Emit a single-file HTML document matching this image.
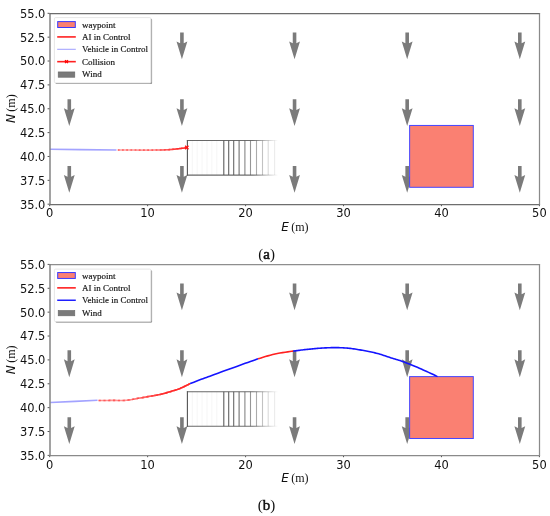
<!DOCTYPE html>
<html><head><meta charset="utf-8"><title>Trajectory plots</title>
<style>
html,body{margin:0;padding:0;background:#fff;}
body{width:550px;height:516px;overflow:hidden;}
svg{display:block;}
.tk{font-family:'DejaVu Sans', 'Liberation Sans', sans-serif;font-size:11.45px;fill:#111;}
.lab{font-size:12px;fill:#111;}
.it{font-family:'DejaVu Sans',sans-serif;font-style:oblique;font-size:12px;fill:#111;}
.sr{font-family:'Liberation Serif', 'DejaVu Serif', serif;font-size:12px;fill:#111;}
.lg{font-family:'Liberation Serif', 'DejaVu Serif', serif;font-size:9px;fill:#111;stroke:#111;stroke-width:0.16px;}
.cap{font-family:'Liberation Serif', 'DejaVu Serif', serif;font-size:15px;fill:#111;}
</style></head><body>
<svg width="550" height="516" viewBox="0 0 550 516">
<rect width="550" height="516" fill="#fff"/>
<polygon points="67.49,32.39 71.09,32.39 71.09,43.19 74.69,41.39 69.29,59.19 63.89,41.39 67.49,43.19" fill="#7b7b7b"/>
<polygon points="180.12,32.39 183.72,32.39 183.72,43.19 187.32,41.39 181.92,59.19 176.52,41.39 180.12,43.19" fill="#7b7b7b"/>
<polygon points="292.75,32.39 296.35,32.39 296.35,43.19 299.95,41.39 294.55,59.19 289.15,41.39 292.75,43.19" fill="#7b7b7b"/>
<polygon points="405.38,32.39 408.98,32.39 408.98,43.19 412.58,41.39 407.18,59.19 401.78,41.39 405.38,43.19" fill="#7b7b7b"/>
<polygon points="518.01,32.39 521.61,32.39 521.61,43.19 525.21,41.39 519.81,59.19 514.41,41.39 518.01,43.19" fill="#7b7b7b"/>
<polygon points="67.49,99.20 71.09,99.20 71.09,110.00 74.69,108.20 69.29,126.00 63.89,108.20 67.49,110.00" fill="#7b7b7b"/>
<polygon points="180.12,99.20 183.72,99.20 183.72,110.00 187.32,108.20 181.92,126.00 176.52,108.20 180.12,110.00" fill="#7b7b7b"/>
<polygon points="292.75,99.20 296.35,99.20 296.35,110.00 299.95,108.20 294.55,126.00 289.15,108.20 292.75,110.00" fill="#7b7b7b"/>
<polygon points="405.38,99.20 408.98,99.20 408.98,110.00 412.58,108.20 407.18,126.00 401.78,108.20 405.38,110.00" fill="#7b7b7b"/>
<polygon points="518.01,99.20 521.61,99.20 521.61,110.00 525.21,108.20 519.81,126.00 514.41,108.20 518.01,110.00" fill="#7b7b7b"/>
<polygon points="67.49,166.02 71.09,166.02 71.09,176.82 74.69,175.02 69.29,192.82 63.89,175.02 67.49,176.82" fill="#7b7b7b"/>
<polygon points="180.12,166.02 183.72,166.02 183.72,176.82 187.32,175.02 181.92,192.82 176.52,175.02 180.12,176.82" fill="#7b7b7b"/>
<polygon points="292.75,166.02 296.35,166.02 296.35,176.82 299.95,175.02 294.55,192.82 289.15,175.02 292.75,176.82" fill="#7b7b7b"/>
<polygon points="405.38,166.02 408.98,166.02 408.98,176.82 412.58,175.02 407.18,192.82 401.78,175.02 405.38,176.82" fill="#7b7b7b"/>
<polygon points="518.01,166.02 521.61,166.02 521.61,176.82 525.21,175.02 519.81,192.82 514.41,175.02 518.01,176.82" fill="#7b7b7b"/>
<defs><linearGradient id="fade0" gradientUnits="userSpaceOnUse" x1="187" y1="0" x2="278" y2="0"><stop offset="0" stop-color="#555" stop-opacity="0.9"/><stop offset="0.72" stop-color="#555" stop-opacity="0.85"/><stop offset="0.87" stop-color="#555" stop-opacity="0.35"/><stop offset="1" stop-color="#555" stop-opacity="0"/></linearGradient></defs>
<line x1="192.30" y1="140.53" x2="192.30" y2="175.09" stroke="#000" stroke-opacity="0.04" stroke-width="1"/>
<line x1="197.20" y1="140.53" x2="197.20" y2="175.09" stroke="#000" stroke-opacity="0.04" stroke-width="1"/>
<line x1="202.10" y1="140.53" x2="202.10" y2="175.09" stroke="#000" stroke-opacity="0.04" stroke-width="1"/>
<line x1="207.00" y1="140.53" x2="207.00" y2="175.09" stroke="#000" stroke-opacity="0.04" stroke-width="1"/>
<line x1="211.90" y1="140.53" x2="211.90" y2="175.09" stroke="#000" stroke-opacity="0.04" stroke-width="1"/>
<line x1="216.80" y1="140.53" x2="216.80" y2="175.09" stroke="#000" stroke-opacity="0.04" stroke-width="1"/>
<line x1="223.80" y1="140.53" x2="223.80" y2="175.09" stroke="#000" stroke-opacity="0.64" stroke-width="1.1"/>
<line x1="228.70" y1="140.53" x2="228.70" y2="175.09" stroke="#000" stroke-opacity="0.62" stroke-width="1.1"/>
<line x1="233.70" y1="140.53" x2="233.70" y2="175.09" stroke="#000" stroke-opacity="0.60" stroke-width="1.1"/>
<line x1="239.10" y1="140.53" x2="239.10" y2="175.09" stroke="#000" stroke-opacity="0.56" stroke-width="1.1"/>
<line x1="244.90" y1="140.53" x2="244.90" y2="175.09" stroke="#000" stroke-opacity="0.48" stroke-width="1.1"/>
<line x1="250.50" y1="140.53" x2="250.50" y2="175.09" stroke="#000" stroke-opacity="0.41" stroke-width="1.1"/>
<line x1="256.50" y1="140.53" x2="256.50" y2="175.09" stroke="#000" stroke-opacity="0.33" stroke-width="1.1"/>
<line x1="262.50" y1="140.53" x2="262.50" y2="175.09" stroke="#000" stroke-opacity="0.24" stroke-width="1.1"/>
<line x1="268.20" y1="140.53" x2="268.20" y2="175.09" stroke="#000" stroke-opacity="0.15" stroke-width="1.1"/>
<line x1="274.60" y1="140.53" x2="274.60" y2="175.09" stroke="#000" stroke-opacity="0.08" stroke-width="1.1"/>
<line x1="187.40" y1="140.03" x2="187.40" y2="175.59" stroke="#000" stroke-opacity="0.68" stroke-width="1.1"/>
<line x1="186.90" y1="140.53" x2="278" y2="140.53" stroke="url(#fade0)" stroke-width="1.1"/>
<line x1="186.90" y1="175.09" x2="278" y2="175.09" stroke="url(#fade0)" stroke-width="1.1"/>
<rect x="409.63" y="125.45" width="63.66" height="61.85" fill="#fa8072" stroke="#4646ff" stroke-width="1"/>
<path d="M50.20,149.30 L80.00,149.60 L116.50,150.00" fill="none" stroke="#a3a3ff" stroke-width="1.6"/>
<path d="M117.80,149.95 L121.47,149.97 L126.67,150.01 L132.78,150.05 L139.13,150.09 L145.08,150.11 L150.00,150.10 L153.94,150.07 L157.42,150.02 L160.51,149.95 L163.27,149.88 L165.74,149.79 L168.00,149.70 L169.92,149.60 L171.44,149.49 L172.69,149.37 L173.78,149.25 L174.84,149.13 L176.00,149.00 L177.26,148.87 L178.52,148.74 L179.75,148.61 L180.93,148.47 L182.02,148.33 L183.00,148.20 L183.89,148.06 L184.70,147.90 L185.44,147.75 L186.07,147.61 L186.60,147.49 L187.00,147.40" fill="none" stroke="#ff9c9c" stroke-width="1.6"/>
<path d="M117.80,149.95 L121.47,149.97 L126.67,150.01 L132.78,150.05 L139.13,150.09 L145.08,150.11 L150.00,150.10 L153.94,150.07 L157.42,150.02 L160.51,149.95 L163.27,149.88 L165.74,149.79 L168.00,149.70 L169.92,149.60 L171.44,149.49 L172.69,149.37 L173.78,149.25 L174.84,149.13 L176.00,149.00 L177.26,148.87 L178.52,148.74 L179.75,148.61 L180.93,148.47 L182.02,148.33 L183.00,148.20 L183.89,148.06 L184.70,147.90 L185.44,147.75 L186.07,147.61 L186.60,147.49 L187.00,147.40" fill="none" stroke="#ff6262" stroke-width="1.6" stroke-dasharray="1.8 2.4"/>
<path d="M150.00,150.10 L153.94,150.07 L157.42,150.02 L160.51,149.95 L163.27,149.88 L165.74,149.79 L168.00,149.70 L169.92,149.60 L171.44,149.49 L172.69,149.37 L173.78,149.25 L174.84,149.13 L176.00,149.00 L177.26,148.87 L178.52,148.74 L179.75,148.61 L180.93,148.47 L182.02,148.33 L183.00,148.20 L183.89,148.06 L184.70,147.90 L185.44,147.75 L186.07,147.61 L186.60,147.49 L187.00,147.40" fill="none" stroke="url(#redfadeA)" stroke-width="1.5"/>
<defs><linearGradient id="redfadeA" gradientUnits="userSpaceOnUse" x1="150" y1="0" x2="180" y2="0"><stop offset="0" stop-color="#ff2a2a" stop-opacity="0"/><stop offset="1" stop-color="#ff2a2a" stop-opacity="1"/></linearGradient></defs>
<path d="M185.10,145.80 l3.4,3.4 M185.10,149.20 l3.4,-3.4" stroke="#ff1010" stroke-width="1.3"/>
<line x1="49.4" y1="13.50" x2="540.1" y2="13.50" stroke="#6c6c6c" stroke-width="1.25"/>
<line x1="49.4" y1="204.50" x2="540.1" y2="204.50" stroke="#6e6e6e" stroke-width="1.25"/>
<line x1="539.5" y1="13.50" x2="539.5" y2="204.50" stroke="#8a8a8a" stroke-width="1.25"/>
<line x1="50.0" y1="13.50" x2="50.0" y2="204.50" stroke="#707070" stroke-width="1.3"/>
<line x1="47.6" y1="204.20" x2="49.5" y2="204.20" stroke="#555" stroke-width="1"/>
<text x="45.4" y="208.60" text-anchor="end" class="tk">35.0</text>
<line x1="47.6" y1="180.34" x2="49.5" y2="180.34" stroke="#555" stroke-width="1"/>
<text x="45.4" y="184.74" text-anchor="end" class="tk">37.5</text>
<line x1="47.6" y1="156.47" x2="49.5" y2="156.47" stroke="#555" stroke-width="1"/>
<text x="45.4" y="160.88" text-anchor="end" class="tk">40.0</text>
<line x1="47.6" y1="132.61" x2="49.5" y2="132.61" stroke="#555" stroke-width="1"/>
<text x="45.4" y="137.01" text-anchor="end" class="tk">42.5</text>
<line x1="47.6" y1="108.75" x2="49.5" y2="108.75" stroke="#555" stroke-width="1"/>
<text x="45.4" y="113.15" text-anchor="end" class="tk">45.0</text>
<line x1="47.6" y1="84.89" x2="49.5" y2="84.89" stroke="#555" stroke-width="1"/>
<text x="45.4" y="89.29" text-anchor="end" class="tk">47.5</text>
<line x1="47.6" y1="61.02" x2="49.5" y2="61.02" stroke="#555" stroke-width="1"/>
<text x="45.4" y="65.42" text-anchor="end" class="tk">50.0</text>
<line x1="47.6" y1="37.16" x2="49.5" y2="37.16" stroke="#555" stroke-width="1"/>
<text x="45.4" y="41.56" text-anchor="end" class="tk">52.5</text>
<line x1="47.6" y1="13.30" x2="49.5" y2="13.30" stroke="#555" stroke-width="1"/>
<text x="45.4" y="17.70" text-anchor="end" class="tk">55.0</text>
<line x1="49.70" y1="205.00" x2="49.70" y2="206.20" stroke="#555" stroke-width="1"/>
<text x="49.70" y="217.30" text-anchor="middle" class="tk">0</text>
<line x1="147.64" y1="205.00" x2="147.64" y2="206.20" stroke="#555" stroke-width="1"/>
<text x="147.64" y="217.30" text-anchor="middle" class="tk">10</text>
<line x1="245.58" y1="205.00" x2="245.58" y2="206.20" stroke="#555" stroke-width="1"/>
<text x="245.58" y="217.30" text-anchor="middle" class="tk">20</text>
<line x1="343.52" y1="205.00" x2="343.52" y2="206.20" stroke="#555" stroke-width="1"/>
<text x="343.52" y="217.30" text-anchor="middle" class="tk">30</text>
<line x1="441.46" y1="205.00" x2="441.46" y2="206.20" stroke="#555" stroke-width="1"/>
<text x="441.46" y="217.30" text-anchor="middle" class="tk">40</text>
<line x1="539.40" y1="205.00" x2="539.40" y2="206.20" stroke="#555" stroke-width="1"/>
<text x="539.40" y="217.30" text-anchor="middle" class="tk">50</text>
<text x="281.2" y="230.70" class="it">E</text>
<text x="291.2" y="230.70" class="sr">(m)</text>
<g transform="translate(14.9,0) rotate(-90)"><text x="-123.05" y="0" class="it">N</text><text x="-111.65" y="0" class="sr">(m)</text></g>
<polygon points="67.49,283.50 71.09,283.50 71.09,294.30 74.69,292.50 69.29,310.30 63.89,292.50 67.49,294.30" fill="#7b7b7b"/>
<polygon points="180.12,283.50 183.72,283.50 183.72,294.30 187.32,292.50 181.92,310.30 176.52,292.50 180.12,294.30" fill="#7b7b7b"/>
<polygon points="292.75,283.50 296.35,283.50 296.35,294.30 299.95,292.50 294.55,310.30 289.15,292.50 292.75,294.30" fill="#7b7b7b"/>
<polygon points="405.38,283.50 408.98,283.50 408.98,294.30 412.58,292.50 407.18,310.30 401.78,292.50 405.38,294.30" fill="#7b7b7b"/>
<polygon points="518.01,283.50 521.61,283.50 521.61,294.30 525.21,292.50 519.81,310.30 514.41,292.50 518.01,294.30" fill="#7b7b7b"/>
<polygon points="67.49,350.35 71.09,350.35 71.09,361.15 74.69,359.35 69.29,377.15 63.89,359.35 67.49,361.15" fill="#7b7b7b"/>
<polygon points="180.12,350.35 183.72,350.35 183.72,361.15 187.32,359.35 181.92,377.15 176.52,359.35 180.12,361.15" fill="#7b7b7b"/>
<polygon points="292.75,350.35 296.35,350.35 296.35,361.15 299.95,359.35 294.55,377.15 289.15,359.35 292.75,361.15" fill="#7b7b7b"/>
<polygon points="405.38,350.35 408.98,350.35 408.98,361.15 412.58,359.35 407.18,377.15 401.78,359.35 405.38,361.15" fill="#7b7b7b"/>
<polygon points="518.01,350.35 521.61,350.35 521.61,361.15 525.21,359.35 519.81,377.15 514.41,359.35 518.01,361.15" fill="#7b7b7b"/>
<polygon points="67.49,417.20 71.09,417.20 71.09,428.00 74.69,426.20 69.29,444.00 63.89,426.20 67.49,428.00" fill="#7b7b7b"/>
<polygon points="180.12,417.20 183.72,417.20 183.72,428.00 187.32,426.20 181.92,444.00 176.52,426.20 180.12,428.00" fill="#7b7b7b"/>
<polygon points="292.75,417.20 296.35,417.20 296.35,428.00 299.95,426.20 294.55,444.00 289.15,426.20 292.75,428.00" fill="#7b7b7b"/>
<polygon points="405.38,417.20 408.98,417.20 408.98,428.00 412.58,426.20 407.18,444.00 401.78,426.20 405.38,428.00" fill="#7b7b7b"/>
<polygon points="518.01,417.20 521.61,417.20 521.61,428.00 525.21,426.20 519.81,444.00 514.41,426.20 518.01,428.00" fill="#7b7b7b"/>
<defs><linearGradient id="fade1" gradientUnits="userSpaceOnUse" x1="187" y1="0" x2="278" y2="0"><stop offset="0" stop-color="#555" stop-opacity="0.9"/><stop offset="0.72" stop-color="#555" stop-opacity="0.85"/><stop offset="0.87" stop-color="#555" stop-opacity="0.35"/><stop offset="1" stop-color="#555" stop-opacity="0"/></linearGradient></defs>
<line x1="192.30" y1="391.70" x2="192.30" y2="426.27" stroke="#000" stroke-opacity="0.04" stroke-width="1"/>
<line x1="197.20" y1="391.70" x2="197.20" y2="426.27" stroke="#000" stroke-opacity="0.04" stroke-width="1"/>
<line x1="202.10" y1="391.70" x2="202.10" y2="426.27" stroke="#000" stroke-opacity="0.04" stroke-width="1"/>
<line x1="207.00" y1="391.70" x2="207.00" y2="426.27" stroke="#000" stroke-opacity="0.04" stroke-width="1"/>
<line x1="211.90" y1="391.70" x2="211.90" y2="426.27" stroke="#000" stroke-opacity="0.04" stroke-width="1"/>
<line x1="216.80" y1="391.70" x2="216.80" y2="426.27" stroke="#000" stroke-opacity="0.04" stroke-width="1"/>
<line x1="223.80" y1="391.70" x2="223.80" y2="426.27" stroke="#000" stroke-opacity="0.64" stroke-width="1.1"/>
<line x1="228.70" y1="391.70" x2="228.70" y2="426.27" stroke="#000" stroke-opacity="0.62" stroke-width="1.1"/>
<line x1="233.70" y1="391.70" x2="233.70" y2="426.27" stroke="#000" stroke-opacity="0.60" stroke-width="1.1"/>
<line x1="239.10" y1="391.70" x2="239.10" y2="426.27" stroke="#000" stroke-opacity="0.56" stroke-width="1.1"/>
<line x1="244.90" y1="391.70" x2="244.90" y2="426.27" stroke="#000" stroke-opacity="0.48" stroke-width="1.1"/>
<line x1="250.50" y1="391.70" x2="250.50" y2="426.27" stroke="#000" stroke-opacity="0.41" stroke-width="1.1"/>
<line x1="256.50" y1="391.70" x2="256.50" y2="426.27" stroke="#000" stroke-opacity="0.33" stroke-width="1.1"/>
<line x1="262.50" y1="391.70" x2="262.50" y2="426.27" stroke="#000" stroke-opacity="0.24" stroke-width="1.1"/>
<line x1="268.20" y1="391.70" x2="268.20" y2="426.27" stroke="#000" stroke-opacity="0.15" stroke-width="1.1"/>
<line x1="274.60" y1="391.70" x2="274.60" y2="426.27" stroke="#000" stroke-opacity="0.08" stroke-width="1.1"/>
<line x1="187.40" y1="391.20" x2="187.40" y2="426.77" stroke="#000" stroke-opacity="0.68" stroke-width="1.1"/>
<line x1="186.90" y1="391.70" x2="278" y2="391.70" stroke="url(#fade1)" stroke-width="1.1"/>
<line x1="186.90" y1="426.27" x2="278" y2="426.27" stroke="url(#fade1)" stroke-width="1.1"/>
<rect x="409.63" y="376.61" width="63.66" height="61.88" fill="#fa8072" stroke="#4646ff" stroke-width="1"/>
<path d="M50.40,402.50 L75.00,401.40 L97.50,400.30" fill="none" stroke="#a3a3ff" stroke-width="1.6"/>
<path d="M98.60,400.50 L99.63,400.49 L100.98,400.48 L102.59,400.47 L104.39,400.46 L106.30,400.45 L108.25,400.43 L110.18,400.42 L112.00,400.40 L113.78,400.40 L115.59,400.42 L117.44,400.44 L119.30,400.46 L121.16,400.46 L123.01,400.44 L124.82,400.37 L126.60,400.25 L128.32,400.07 L130.00,399.84 L131.64,399.58 L133.27,399.28 L134.91,398.96 L136.57,398.64 L138.26,398.31 L140.00,398.00 L141.85,397.68 L143.83,397.35 L145.86,397.00 L147.90,396.65 L149.89,396.30 L151.78,395.97 L153.50,395.67 L155.00,395.40 L156.25,395.17 L157.29,394.99 L158.17,394.83 L158.94,394.68 L159.65,394.54 L160.37,394.39 L161.13,394.21 L162.00,394.00 L162.95,393.76 L163.93,393.49 L164.92,393.21 L165.92,392.92 L166.94,392.62 L167.96,392.31 L168.98,392.00 L170.00,391.70 L171.02,391.40 L172.07,391.10 L173.12,390.80 L174.18,390.49 L175.22,390.18 L176.24,389.86 L177.24,389.54 L178.20,389.20 L179.13,388.85 L180.04,388.48 L180.93,388.09 L181.79,387.71 L182.64,387.32 L183.45,386.93 L184.24,386.56 L185.00,386.20 L185.75,385.84 L186.51,385.46 L187.26,385.08 L187.97,384.71 L188.64,384.37 L189.22,384.06 L189.72,383.80 L190.10,383.60" fill="none" stroke="#ff9494" stroke-width="1.6"/>
<path d="M98.60,400.50 L99.63,400.49 L100.98,400.48 L102.59,400.47 L104.39,400.46 L106.30,400.45 L108.25,400.43 L110.18,400.42 L112.00,400.40 L113.78,400.40 L115.59,400.42 L117.44,400.44 L119.30,400.46 L121.16,400.46 L123.01,400.44 L124.82,400.37 L126.60,400.25 L128.32,400.07 L130.00,399.84 L131.64,399.58 L133.27,399.28 L134.91,398.96 L136.57,398.64 L138.26,398.31 L140.00,398.00 L141.85,397.68 L143.83,397.35 L145.86,397.00 L147.90,396.65 L149.89,396.30 L151.78,395.97 L153.50,395.67 L155.00,395.40 L156.25,395.17 L157.29,394.99 L158.17,394.83 L158.94,394.68 L159.65,394.54 L160.37,394.39 L161.13,394.21 L162.00,394.00 L162.95,393.76 L163.93,393.49 L164.92,393.21 L165.92,392.92 L166.94,392.62 L167.96,392.31 L168.98,392.00 L170.00,391.70 L171.02,391.40 L172.07,391.10 L173.12,390.80 L174.18,390.49 L175.22,390.18 L176.24,389.86 L177.24,389.54 L178.20,389.20 L179.13,388.85 L180.04,388.48 L180.93,388.09 L181.79,387.71 L182.64,387.32 L183.45,386.93 L184.24,386.56 L185.00,386.20 L185.75,385.84 L186.51,385.46 L187.26,385.08 L187.97,384.71 L188.64,384.37 L189.22,384.06 L189.72,383.80 L190.10,383.60" fill="none" stroke="#ff5a5a" stroke-width="1.6" stroke-dasharray="2.2 2.6"/>
<path d="M126.60,400.25 L128.32,400.07 L130.00,399.84 L131.64,399.58 L133.27,399.28 L134.91,398.96 L136.57,398.64 L138.26,398.31 L140.00,398.00 L141.85,397.68 L143.83,397.35 L145.86,397.00 L147.90,396.65 L149.89,396.30 L151.78,395.97 L153.50,395.67 L155.00,395.40 L156.25,395.17 L157.29,394.99 L158.17,394.83 L158.94,394.68 L159.65,394.54 L160.37,394.39 L161.13,394.21 L162.00,394.00 L162.95,393.76 L163.93,393.49 L164.92,393.21 L165.92,392.92 L166.94,392.62 L167.96,392.31 L168.98,392.00 L170.00,391.70 L171.02,391.40 L172.07,391.10 L173.12,390.80 L174.18,390.49 L175.22,390.18 L176.24,389.86 L177.24,389.54 L178.20,389.20 L179.13,388.85 L180.04,388.48 L180.93,388.09 L181.79,387.71 L182.64,387.32 L183.45,386.93 L184.24,386.56 L185.00,386.20 L185.75,385.84 L186.51,385.46 L187.26,385.08 L187.97,384.71 L188.64,384.37 L189.22,384.06 L189.72,383.80 L190.10,383.60" fill="none" stroke="url(#redfade)" stroke-width="1.6"/>
<defs><linearGradient id="redfade" gradientUnits="userSpaceOnUse" x1="125" y1="0" x2="165" y2="0"><stop offset="0" stop-color="#ff2a2a" stop-opacity="0"/><stop offset="1" stop-color="#ff2a2a" stop-opacity="1"/></linearGradient></defs>
<path d="M190.10,383.60 L191.08,383.23 L192.37,382.73 L193.90,382.15 L195.61,381.49 L197.44,380.80 L199.32,380.08 L201.20,379.37 L203.00,378.70 L204.73,378.06 L206.44,377.43 L208.16,376.79 L209.93,376.14 L211.77,375.47 L213.71,374.76 L215.78,374.01 L218.00,373.20 L220.44,372.31 L223.10,371.34 L225.91,370.31 L228.81,369.26 L231.74,368.19 L234.62,367.15 L237.39,366.14 L240.00,365.20 L242.56,364.28 L245.20,363.34 L247.83,362.40 L250.38,361.50 L252.74,360.66 L254.86,359.91 L256.64,359.28 L258.00,358.80" fill="none" stroke="#1414ff" stroke-width="1.6"/>
<path d="M258.00,358.80 L259.30,358.42 L261.02,357.89 L263.07,357.27 L265.36,356.58 L267.78,355.87 L270.26,355.18 L272.70,354.54 L275.00,354.00 L277.35,353.53 L279.91,353.07 L282.57,352.65 L285.21,352.25 L287.72,351.89 L289.98,351.58 L291.88,351.31 L293.30,351.10" fill="none" stroke="#ff2020" stroke-width="1.6"/>
<path d="M293.30,351.20 L293.79,351.12 L294.43,351.02 L295.18,350.90 L296.03,350.77 L296.95,350.63 L297.94,350.48 L298.96,350.34 L300.00,350.20 L301.09,350.07 L302.27,349.93 L303.51,349.79 L304.79,349.64 L306.10,349.50 L307.42,349.36 L308.73,349.23 L310.00,349.10 L311.25,348.98 L312.50,348.85 L313.75,348.73 L315.00,348.61 L316.25,348.50 L317.50,348.39 L318.75,348.29 L320.00,348.20 L321.25,348.11 L322.50,348.04 L323.75,347.96 L325.00,347.89 L326.25,347.83 L327.50,347.78 L328.75,347.74 L330.00,347.70 L331.25,347.67 L332.50,347.65 L333.75,347.63 L335.00,347.62 L336.25,347.63 L337.50,347.64 L338.75,347.66 L340.00,347.70 L341.25,347.75 L342.50,347.81 L343.75,347.88 L345.00,347.96 L346.25,348.05 L347.50,348.15 L348.75,348.27 L350.00,348.40 L351.25,348.55 L352.50,348.71 L353.75,348.89 L355.00,349.08 L356.25,349.28 L357.50,349.49 L358.75,349.69 L360.00,349.90 L361.25,350.11 L362.50,350.31 L363.75,350.52 L365.00,350.74 L366.25,350.96 L367.50,351.19 L368.75,351.44 L370.00,351.70 L371.25,351.97 L372.50,352.26 L373.75,352.55 L375.00,352.86 L376.25,353.17 L377.50,353.50 L378.75,353.84 L380.00,354.20 L381.25,354.58 L382.50,354.97 L383.75,355.39 L385.00,355.81 L386.25,356.24 L387.50,356.67 L388.75,357.09 L390.00,357.50 L391.25,357.89 L392.50,358.28 L393.75,358.65 L395.00,359.03 L396.25,359.40 L397.50,359.79 L398.75,360.19 L400.00,360.60 L401.22,361.02 L402.38,361.42 L403.53,361.82 L404.69,362.24 L405.88,362.69 L407.15,363.17 L408.51,363.70 L410.00,364.30 L411.65,364.97 L413.46,365.72 L415.37,366.52 L417.34,367.36 L419.34,368.22 L421.31,369.07 L423.21,369.91 L425.00,370.70 L426.77,371.50 L428.59,372.35 L430.42,373.21 L432.19,374.05 L433.84,374.84 L435.31,375.55 L436.55,376.15 L437.50,376.60" fill="none" stroke="#1414ff" stroke-width="1.6"/>
<line x1="49.4" y1="264.50" x2="540.1" y2="264.50" stroke="#8e8e8e" stroke-width="1.25"/>
<line x1="49.4" y1="455.50" x2="540.1" y2="455.50" stroke="#8a8a8a" stroke-width="1.25"/>
<line x1="539.5" y1="264.50" x2="539.5" y2="455.50" stroke="#8a8a8a" stroke-width="1.25"/>
<line x1="50.0" y1="264.50" x2="50.0" y2="455.50" stroke="#707070" stroke-width="1.3"/>
<line x1="47.6" y1="455.40" x2="49.5" y2="455.40" stroke="#555" stroke-width="1"/>
<text x="45.4" y="459.80" text-anchor="end" class="tk">35.0</text>
<line x1="47.6" y1="431.52" x2="49.5" y2="431.52" stroke="#555" stroke-width="1"/>
<text x="45.4" y="435.92" text-anchor="end" class="tk">37.5</text>
<line x1="47.6" y1="407.65" x2="49.5" y2="407.65" stroke="#555" stroke-width="1"/>
<text x="45.4" y="412.05" text-anchor="end" class="tk">40.0</text>
<line x1="47.6" y1="383.77" x2="49.5" y2="383.77" stroke="#555" stroke-width="1"/>
<text x="45.4" y="388.17" text-anchor="end" class="tk">42.5</text>
<line x1="47.6" y1="359.90" x2="49.5" y2="359.90" stroke="#555" stroke-width="1"/>
<text x="45.4" y="364.30" text-anchor="end" class="tk">45.0</text>
<line x1="47.6" y1="336.02" x2="49.5" y2="336.02" stroke="#555" stroke-width="1"/>
<text x="45.4" y="340.42" text-anchor="end" class="tk">47.5</text>
<line x1="47.6" y1="312.15" x2="49.5" y2="312.15" stroke="#555" stroke-width="1"/>
<text x="45.4" y="316.55" text-anchor="end" class="tk">50.0</text>
<line x1="47.6" y1="288.27" x2="49.5" y2="288.27" stroke="#555" stroke-width="1"/>
<text x="45.4" y="292.67" text-anchor="end" class="tk">52.5</text>
<line x1="47.6" y1="264.40" x2="49.5" y2="264.40" stroke="#555" stroke-width="1"/>
<text x="45.4" y="268.80" text-anchor="end" class="tk">55.0</text>
<line x1="49.70" y1="456.00" x2="49.70" y2="457.20" stroke="#555" stroke-width="1"/>
<text x="49.70" y="468.50" text-anchor="middle" class="tk">0</text>
<line x1="147.64" y1="456.00" x2="147.64" y2="457.20" stroke="#555" stroke-width="1"/>
<text x="147.64" y="468.50" text-anchor="middle" class="tk">10</text>
<line x1="245.58" y1="456.00" x2="245.58" y2="457.20" stroke="#555" stroke-width="1"/>
<text x="245.58" y="468.50" text-anchor="middle" class="tk">20</text>
<line x1="343.52" y1="456.00" x2="343.52" y2="457.20" stroke="#555" stroke-width="1"/>
<text x="343.52" y="468.50" text-anchor="middle" class="tk">30</text>
<line x1="441.46" y1="456.00" x2="441.46" y2="457.20" stroke="#555" stroke-width="1"/>
<text x="441.46" y="468.50" text-anchor="middle" class="tk">40</text>
<line x1="539.40" y1="456.00" x2="539.40" y2="457.20" stroke="#555" stroke-width="1"/>
<text x="539.40" y="468.50" text-anchor="middle" class="tk">50</text>
<text x="281.2" y="481.90" class="it">E</text>
<text x="291.2" y="481.90" class="sr">(m)</text>
<g transform="translate(14.9,0) rotate(-90)"><text x="-374.20" y="0" class="it">N</text><text x="-362.80" y="0" class="sr">(m)</text></g>
<rect x="55.60" y="18.80" width="96.50" height="65.30" rx="1.2" fill="#9c9c9c"/>
<rect x="54.40" y="17.60" width="96.50" height="65.30" rx="1.2" fill="#fff" stroke="#e0e0e0" stroke-width="0.8"/>
<rect x="57.7" y="21.60" width="17.6" height="5.9" fill="#fa8072" stroke="#3a3aff" stroke-width="1"/>
<text x="82.0" y="27.65" class="lg">waypoint</text>
<line x1="57.2" y1="36.92" x2="75.8" y2="36.92" stroke="#ff2020" stroke-width="1.6"/>
<text x="82.0" y="40.02" class="lg">AI in Control</text>
<line x1="57.2" y1="49.29" x2="75.8" y2="49.29" stroke="#9d9dff" stroke-width="1"/>
<text x="82.0" y="52.39" class="lg">Vehicle in Control</text>
<line x1="57.2" y1="61.66" x2="75.8" y2="61.66" stroke="#ff2020" stroke-width="1.6"/>
<path d="M65.00,60.16 l3,3 M65.00,63.16 l3,-3" stroke="#ff0000" stroke-width="1.3"/>
<text x="82.0" y="64.76" class="lg">Collision</text>
<rect x="58.2" y="71.93" width="16.6" height="5.3" fill="#7a7a7a" stroke="#666" stroke-width="0.6"/>
<text x="82.0" y="77.13" class="lg">Wind</text>
<rect x="55.60" y="270.30" width="96.50" height="52.50" rx="1.2" fill="#9c9c9c"/>
<rect x="54.40" y="269.10" width="96.50" height="52.50" rx="1.2" fill="#fff" stroke="#e0e0e0" stroke-width="0.8"/>
<rect x="57.7" y="272.55" width="17.6" height="5.9" fill="#fa8072" stroke="#3a3aff" stroke-width="1"/>
<text x="82.0" y="278.60" class="lg">waypoint</text>
<line x1="57.2" y1="287.87" x2="75.8" y2="287.87" stroke="#ff2020" stroke-width="1.6"/>
<text x="82.0" y="290.97" class="lg">AI in Control</text>
<line x1="57.2" y1="300.24" x2="75.8" y2="300.24" stroke="#1010ff" stroke-width="1.4"/>
<text x="82.0" y="303.34" class="lg">Vehicle in Control</text>
<rect x="58.2" y="310.51" width="16.6" height="5.3" fill="#7a7a7a" stroke="#666" stroke-width="0.6"/>
<text x="82.0" y="315.71" class="lg">Wind</text>
<text x="266.6" y="259.0" text-anchor="middle" class="cap">(<tspan stroke="#111" stroke-width="0.55">a</tspan>)</text>
<text x="266.6" y="509.6" text-anchor="middle" class="cap">(<tspan stroke="#111" stroke-width="0.45">b</tspan>)</text>
</svg>
</body></html>
